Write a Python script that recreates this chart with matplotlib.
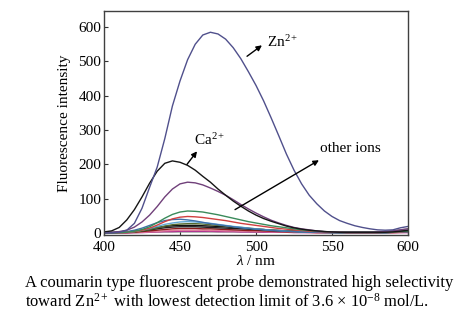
import numpy as np
import matplotlib
matplotlib.use("Agg")
import matplotlib.pyplot as plt

plt.rcParams['font.family'] = ['Liberation Serif', 'DejaVu Serif']
plt.rcParams['mathtext.fontset'] = 'custom'
plt.rcParams['mathtext.rm'] = 'Liberation Serif'
plt.rcParams['mathtext.it'] = 'Liberation Serif:italic'

# emission spectra, 400-600 nm every 5 nm
wavelength = np.arange(400, 605, 5)

zn = [0, 0, 2, 8, 28, 72, 133, 192, 275, 370, 443, 505, 550, 577, 585, 580, 565, 540, 508, 470,
      430, 385, 335, 283, 230, 183, 143, 110, 85, 64, 48, 36, 28, 21, 16, 12, 9, 8, 9, 15, 19]
ca = [3, 6, 16, 38, 68, 105, 145, 180, 203, 210, 206, 197, 183, 165, 148, 128, 110, 93, 78, 64,
      52, 42, 34, 27, 20, 15, 11, 8, 6, 4, 3, 2, 2, 2, 2, 2, 2, 2, 3, 5, 7]
ion_purple = [1, 2, 4, 8, 17, 32, 52, 77, 105, 128, 143, 148, 146, 140, 131, 121, 110, 97, 83, 70,
              58, 47, 37, 29, 22, 16, 12, 9, 6, 4, 3, 2, 2, 2, 2, 2, 3, 4, 6, 9, 12]
ion_green = [0, 0, 1, 2, 5, 10, 18, 30, 43, 54, 61, 64, 63, 61, 57, 53, 48, 43, 38, 33,
             29, 25, 21, 18, 15, 12, 9, 7, 5, 4, 3, 2, 2, 2, 2, 2, 2, 2, 3, 4, 5]
ion_red = [0, 0, 1, 2, 4, 8, 14, 23, 33, 41, 46, 48, 47, 45, 42, 39, 36, 32, 28, 25,
           22, 19, 16, 13, 11, 9, 7, 5, 4, 3, 2, 2, 1, 1, 1, 1, 1, 2, 2, 3, 4]
ion_blue = [0, 1, 2, 4, 8, 14, 22, 30, 36, 39, 40, 38, 35, 31, 27, 24, 21, 18, 15, 13,
            11, 9, 7, 6, 5, 4, 3, 2, 2, 1, 1, 1, 1, 1, 1, 1, 1, 1, 2, 2, 3]
ion_cyan = [0, 0, 1, 2, 4, 8, 13, 19, 25, 29, 32, 33, 32, 30, 28, 25, 22, 19, 17, 14,
            12, 10, 8, 7, 5, 4, 3, 3, 2, 2, 1, 1, 1, 1, 1, 1, 1, 1, 2, 2, 3]
ion_olive = [0, 0, 1, 2, 3, 6, 10, 15, 20, 24, 26, 27, 27, 26, 24, 22, 20, 18, 16, 14,
             12, 10, 8, 7, 6, 5, 4, 3, 2, 2, 1, 1, 1, 1, 1, 1, 1, 1, 2, 3, 4]
ion_black1 = [1, 1, 2, 3, 5, 8, 12, 16, 19, 21, 22, 22, 22, 21, 20, 19, 18, 16, 15, 13,
              11, 10, 8, 7, 6, 5, 4, 3, 2, 2, 2, 1, 1, 1, 1, 1, 1, 2, 3, 5, 8]
ion_black2 = [1, 1, 2, 3, 4, 6, 9, 12, 15, 17, 18, 18, 18, 17, 16, 15, 14, 13, 12, 11,
              10, 9, 8, 7, 6, 5, 4, 3, 3, 2, 2, 2, 1, 1, 1, 1, 1, 1, 2, 3, 5]
ion_maroon = [0, 0, 1, 1, 2, 4, 6, 8, 10, 12, 13, 13, 13, 12, 12, 11, 10, 9, 8, 7,
              7, 6, 5, 4, 3, 3, 2, 2, 1, 1, 1, 1, 1, 1, 1, 1, 1, 1, 1, 2, 2]
ion_pink = [0, 0, 0, 1, 1, 2, 3, 4, 6, 7, 8, 8, 8, 8, 7, 7, 6, 6, 5, 5,
            4, 4, 3, 3, 2, 2, 2, 1, 1, 1, 1, 1, 1, 1, 1, 1, 1, 1, 1, 1, 2]
ion_magenta = [0, 0, 0, 0, 1, 1, 2, 3, 4, 4, 5, 5, 5, 5, 5, 4, 4, 4, 3, 3,
               3, 2, 2, 2, 2, 1, 1, 1, 1, 1, 1, 1, 1, 1, 1, 1, 1, 1, 1, 1, 1]
ion_gray = [1, 1, 1, 1, 1, 2, 2, 3, 3, 3, 3, 3, 3, 3, 3, 3, 3, 3, 3, 3,
            2, 2, 2, 2, 2, 2, 2, 2, 2, 2, 2, 2, 2, 2, 2, 2, 3, 4, 6, 9, 12]

# weak responders first, so the strong curves sit on top
curves = [
    (ion_gray, '#8a8a8a'),
    (ion_magenta, '#b03090'),
    (ion_pink, '#e07a9a'),
    (ion_maroon, '#8b1a1a'),
    (ion_black2, '#202020'),
    (ion_black1, '#111111'),
    (ion_olive, '#556b2f'),
    (ion_cyan, '#5fa8d3'),
    (ion_blue, '#3f6fa8'),
    (ion_red, '#d04040'),
    (ion_green, '#3a8a5a'),
    (ion_purple, '#70407a'),
    (ca, '#151515'),
    (zn, '#50508c'),
]

fig = plt.figure(figsize=(4.74, 3.25), dpi=100)
ax = fig.add_axes([0.2194, 0.2769, 0.6414, 0.6893])

for y, c in curves:
    ax.plot(wavelength, y, color=c, lw=1.0, solid_joinstyle='round')

ax.set_xlim(400, 600)
ax.set_ylim(-6, 647)
ax.set_xticks([400, 450, 500, 550, 600])
ax.set_yticks([0, 100, 200, 300, 400, 500, 600])
ax.tick_params(direction='in', length=3, width=0.8, labelsize=11, colors='#333333',
               labelcolor='black')
ax.tick_params(axis='x', pad=4)
ax.tick_params(axis='y', pad=2)
for s in ax.spines.values():
    s.set_color('#404040')
    s.set_linewidth(1.0)

ax.set_ylabel('Fluorescence intensity', fontsize=11, labelpad=5)
ax.set_xlabel(r'$\lambda$ / nm', fontsize=11, labelpad=0)

arrow = dict(arrowstyle='-|>', color='black', lw=1.0, mutation_scale=8, shrinkA=0, shrinkB=0)
ax.annotate('', xy=(503.9, 547), xytext=(494.1, 515), arrowprops=arrow)
ax.text(507.2, 556, r'Zn$^{2+}$', fontsize=11, ha='left', va='center')
ax.annotate('', xy=(461.2, 238), xytext=(454.6, 200), arrowprops=arrow)
ax.text(469.7, 271, r'Ca$^{2+}$', fontsize=11, ha='center', va='center')
ax.annotate('', xy=(541.4, 212), xytext=(486.2, 68), arrowprops=arrow)
ax.text(542.1, 247, 'other ions', fontsize=11, ha='left', va='center')

fig.text(25 / 474, 1 - 283 / 325,
         'A coumarin type fluorescent probe demonstrated high selectivity',
         fontsize=11.9, ha='left', va='center')
fig.text(25 / 474, 1 - 302 / 325,
         r'toward Zn$^{2+}$ with lowest detection limit of 3.6 $\times$ 10$^{-8}$ mol/L.',
         fontsize=11.9, ha='left', va='center')

fig.savefig('out.png', dpi=100)
